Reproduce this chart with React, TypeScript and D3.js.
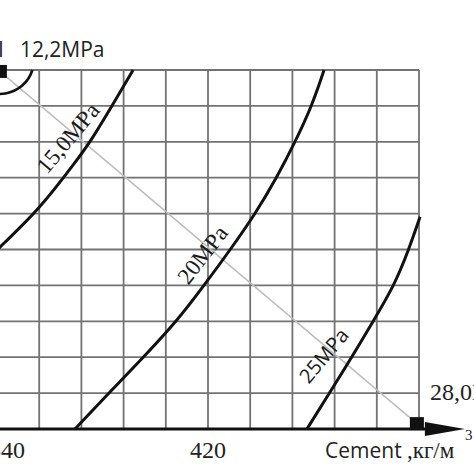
import React from "react";
import * as d3 from "d3";

// Cement axis (kg/m3) grid values and a generic vertical row scale
const cementGrid = d3.range(340, 501, 16);
const rowGrid = d3.range(1, 11);
const tickValues = [340, 420];
const tickLabels = ["340", "420"];

// Iso-strength curves [cement, row]
const curve15: [number, number][] = [[337.3, 4.79], [341.1, 5.07], [355.9, 6.10], [370.3, 7.49], [375.3, 7.99], [383.6, 9.0], [391.6, 10]];
const curve20: [number, number][] = [[369.6, 0], [382.8, 1.03], [395.7, 2.01], [408.6, 3.04], [418.5, 4.0], [428.5, 5.0], [438.0, 6.0], [446.2, 7.02], [453.0, 7.99], [459.4, 9.0], [464.0, 10]];
const curve25: [number, number][] = [[457.5, 0], [466.3, 1.03], [474.6, 2.01], [482.9, 3.04], [490.5, 3.98], [496.2, 5.01], [500.4, 5.91]];
const curves = [curve15, curve20, curve25];

const curveLabels = ["15,0MPa", "20MPa", "25MPa"];
const curveLabelPos: [number, number][] = [[367.0, 8.1], [418.0, 4.85], [463.8, 2.05]];
const curveLabelAngle = [-50, -52, -50];

const startPoint: [number, number] = [341.1, 9.96];
const endPoint: [number, number] = [499.2, 0.15];
const startLabel = "12,2MPa";
const endLabel = "28,0MPa";
const arcCenter: [number, number] = [341.1, 10.28];

const SERIF = "Liberation Serif, DejaVu Serif, Times New Roman, serif";
const SANS = "Open Sans, DejaVu Sans, sans-serif";

export default function App() {
  const W = 474, H = 474;
  const x = d3.scaleLinear().domain([340, 500]).range([-3, 419]);
  const y = d3.scaleLinear().domain([0, 10]).range([429, 70]);

  const line = d3
    .line<[number, number]>()
    .x((d) => x(d[0]))
    .y((d) => y(d[1]))
    .curve(d3.curveBasis);

  const arcPath = d3.path();
  const acx = x(arcCenter[0]), acy = y(arcCenter[1]);
  arcPath.arc(acx, acy, 34, 0.3, Math.PI * 0.8);

  const sx = x(startPoint[0]), sy = y(startPoint[1]);
  const ex = x(endPoint[0]), ey = y(endPoint[1]);
  const axisY = y(0);

  const serif = (size: number) => ({ fontFamily: SERIF, fontSize: size });
  const sans = (size: number) => ({ fontFamily: SANS, fontSize: size });

  return (
    <div style={{ position: "absolute", left: 0, top: 0 }}>
      <svg width={W} height={H} style={{ display: "block", background: "#fff" }}>
        {/* grid */}
        <g stroke="#737373" strokeWidth={1.8}>
          {cementGrid.map((c) => (
            <line key={"v" + c} x1={x(c)} x2={x(c)} y1={y(10)} y2={y(0)} />
          ))}
          {rowGrid.map((r) => (
            <line key={"h" + r} x1={x(340)} x2={x(500)} y1={y(r)} y2={y(r)} />
          ))}
        </g>
        {/* diagonal */}
        <line x1={sx} y1={sy} x2={ex} y2={ey} stroke="#bdbdbd" strokeWidth={1.5} />
        {/* arc */}
        <path d={arcPath.toString()} fill="none" stroke="#111" strokeWidth={2.6} />
        {/* curves */}
        {curves.map((c, i) => (
          <path key={i} d={line(c) || ""} fill="none" stroke="#111" strokeWidth={3} />
        ))}
        {/* axis */}
        <line x1={-10} x2={440} y1={axisY} y2={axisY} stroke="#111" strokeWidth={3} />
        <path d={`M${ex + 8},${axisY - 7} L${ex + 48},${axisY} L${ex + 8},${axisY + 7} Z`} fill="#111" />
        {/* markers */}
        <rect x={sx - 7} y={sy - 6.5} width={14} height={13} fill="#111" />
        <rect x={ex - 7} y={ey - 6.5} width={14} height={13} fill="#111" />
        {/* curve labels */}
        {curveLabels.map((t, i) => (
          <text
            key={t}
            transform={`translate(${x(curveLabelPos[i][0])},${y(curveLabelPos[i][1])}) rotate(${curveLabelAngle[i]})`}
            textAnchor="middle"
            dominantBaseline="central"
            style={i === 2 ? sans(20) : serif(23)}
            fill="#1a1a1a"
          >
            {t}
          </text>
        ))}
        {/* point labels */}
        <text x={sx + 1} y={sy - 14.5} textAnchor="middle" style={sans(21)} fill="#222">I</text>
        <text x={sx + 20} y={sy - 14.5} style={sans(21)} fill="#222">{startLabel}</text>
        <text x={ex + 13} y={ey - 23.5} style={serif(24)} fill="#222">{endLabel}</text>
        {/* tick labels */}
        {tickValues.map((v, i) => (
          <text key={v} x={x(v)} dx={i === 0 ? 10 : 0} y={458} textAnchor="middle" style={serif(24)} fill="#222">
            {tickLabels[i]}
          </text>
        ))}
        {/* axis title */}
        <text x={325} y={458} style={sans(21)} fill="#222">Cement</text>
        <text x={407} y={458} style={serif(23)} fill="#222">,кг/м</text>
        <text x={465} y={440} style={serif(15)} fill="#222">3</text>
      </svg>
    </div>
  );
}
